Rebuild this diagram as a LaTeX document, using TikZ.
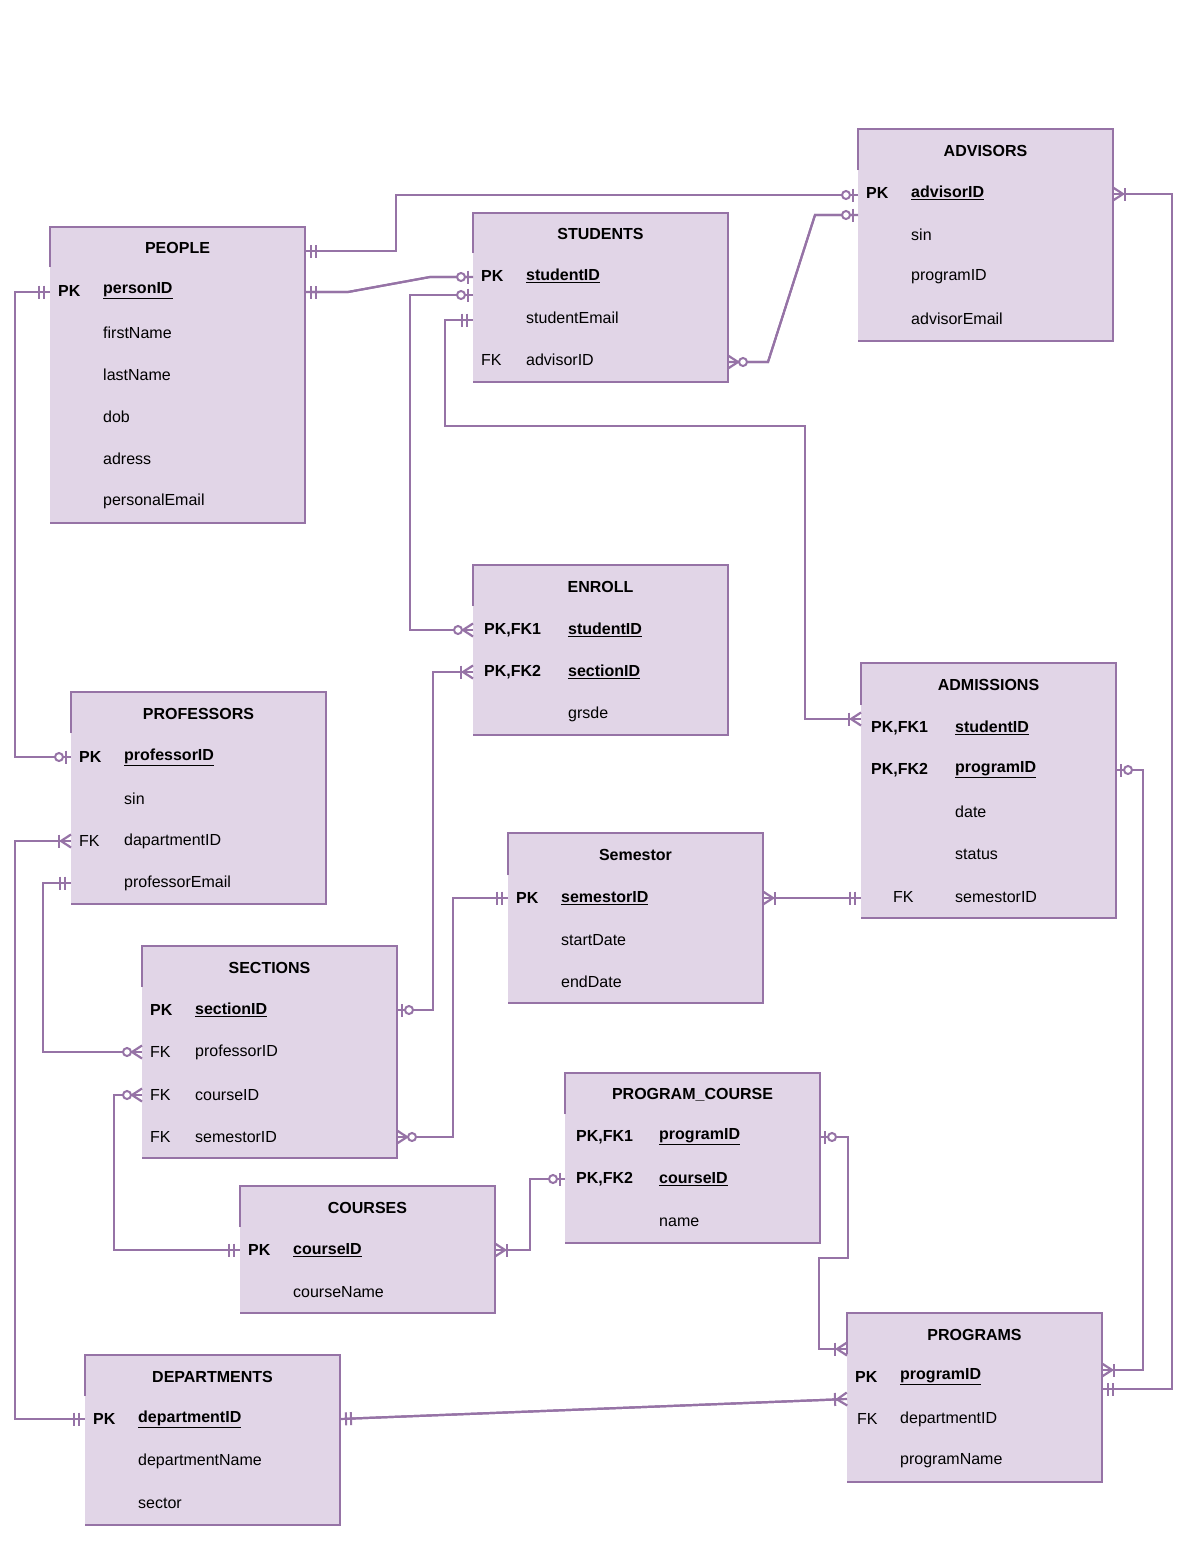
\documentclass[tikz,border=0pt]{standalone}
\usepackage{fontspec}
\setmainfont{Liberation Sans}
\usetikzlibrary{arrows.meta,calc}
\pgfdeclarearrow{
  name=Crow,
  setup code={
    \pgfarrowssettipend{0pt}
    \pgfarrowssetbackend{-10pt}
    \pgfarrowssetlineend{-10pt}
    \pgfarrowssetvisualbackend{-10pt}
    \pgfarrowshullpoint{0pt}{6.5pt}
    \pgfarrowshullpoint{0pt}{-6.5pt}
    \pgfarrowshullpoint{-10pt}{0pt}
  },
  drawing code={
    \pgfsetdash{}{0pt}\pgfsetmiterjoin
    \pgfpathmoveto{\pgfqpoint{0pt}{6.5pt}}
    \pgfpathlineto{\pgfqpoint{-10pt}{0pt}}
    \pgfpathlineto{\pgfqpoint{0pt}{-6.5pt}}
    \pgfusepathqstroke
  },
}
\definecolor{purp}{HTML}{9673A6}
\definecolor{bfill}{HTML}{E1D5E7}
\tikzset{
  B/.tip={Bar[width=13pt,line width=2pt]},
  mo/.tip={B[sep=3pt] B[sep=5pt]},
  zo/.tip={Circle[open,fill=white,length=10pt,width=10pt,line width=2pt,sep=1pt] B[sep=4pt]},
  om/.tip={B[sep=1pt] Crow},
  zm/.tip={Circle[open,fill=white,length=10pt,width=10pt,line width=2pt,sep=0pt] Crow},
  conn/.style={draw=purp,line width=2.2pt,preaction={draw=purp,line width=2.2pt,arrows=-}},
  tbox/.style={fill=bfill,draw=none,inner sep=0pt,outer sep=0pt},
  hline/.style={draw=purp,line width=2.4pt},
  bline/.style={draw=purp,line width=1.2pt},
  htitle/.style={font=\fontsize{16}{18}\selectfont\bfseries,inner sep=0pt,yshift=-1pt},
  fld/.style={font=\fontsize{16}{18}\selectfont,anchor=west,inner sep=0pt,text=black,yshift=-2pt},
}
\newcommand\ertable[7]{%
  \node[tbox,minimum width={#5pt-#2pt},minimum height={#6pt-#3pt}] (#1) at ({(#2+#5)/2},{(#3+#6)/2}) {};
  \node[htitle] (#1-h) at ({(#2+#5)/2},{(#3+#4)/2}) {#7};
  \draw[hline] (#2,#4) -- (#2,#3) -- (#5,#3) -- (#5,#4);
  \draw[bline] (#5,#4) -- (#5,#6) -- (#2,#6);
}
\newcommand\ul[1]{\textbf{\underline{#1}}}
\begin{document}
\begin{tikzpicture}[x=1pt,y=-1pt]
\useasboundingbox[fill=white] (0,0) rectangle (1200,1555);
% PEOPLE
\ertable{people}{50}{227}{267}{305}{523}{PEOPLE}
\node[fld] (people-k1) at (58,289) {\textbf{PK}};
\node[fld] (people-1) at (103,289) {\ul{personID}};
\node[fld] (people-2) at (103,331) {firstName};
\node[fld] (people-3) at (103,373) {lastName};
\node[fld] (people-4) at (103,415) {dob};
\node[fld] (people-5) at (103,457) {adress};
\node[fld] (people-6) at (103,499) {personalEmail};
% STUDENTS
\ertable{students}{473}{213}{253}{728}{382}{STUDENTS}
\node[fld] (students-k1) at (481,274) {\textbf{PK}};
\node[fld] (students-1) at (526,274) {\ul{studentID}};
\node[fld] (students-2) at (526,316) {studentEmail};
\node[fld] (students-k3) at (481,358) {FK};
\node[fld] (students-3) at (526,358) {advisorID};
% ADVISORS
\ertable{advisors}{858}{129}{170}{1113}{341}{ADVISORS}
\node[fld] (advisors-k1) at (866,191) {\textbf{PK}};
\node[fld] (advisors-1) at (911,191) {\ul{advisorID}};
\node[fld] (advisors-2) at (911,233) {sin};
\node[fld] (advisors-3) at (911,275) {programID};
\node[fld] (advisors-4) at (911,317) {advisorEmail};
% ENROLL
\ertable{enroll}{473}{565}{606}{728}{735}{ENROLL}
\node[fld] (enroll-k1) at (484,628) {\textbf{PK,FK1}};
\node[fld] (enroll-1) at (568,628) {\ul{studentID}};
\node[fld] (enroll-k2) at (484,670) {\textbf{PK,FK2}};
\node[fld] (enroll-2) at (568,670) {\ul{sectionID}};
\node[fld] (enroll-3) at (568,712) {grsde};
% PROFESSORS
\ertable{professors}{71}{692}{733}{326}{904}{PROFESSORS}
\node[fld] (professors-k1) at (79,755) {\textbf{PK}};
\node[fld] (professors-1) at (124,755) {\ul{professorID}};
\node[fld] (professors-2) at (124,797) {sin};
\node[fld] (professors-k3) at (79,839) {FK};
\node[fld] (professors-3) at (124,839) {dapartmentID};
\node[fld] (professors-4) at (124,881) {professorEmail};
% ADMISSIONS
\ertable{admissions}{861}{663}{705}{1116}{918}{ADMISSIONS}
\node[fld] (admissions-k1) at (871,726) {\textbf{PK,FK1}};
\node[fld] (admissions-1) at (955,726) {\ul{studentID}};
\node[fld] (admissions-k2) at (871,768) {\textbf{PK,FK2}};
\node[fld] (admissions-2) at (955,768) {\ul{programID}};
\node[fld] (admissions-3) at (955,810) {date};
\node[fld] (admissions-4) at (955,852) {status};
\node[fld] (admissions-k5) at (893,895) {FK};
\node[fld] (admissions-5) at (955,895) {semestorID};
% Semestor
\ertable{semestor}{508}{833}{875}{763}{1003}{Semestor}
\node[fld] (semestor-k1) at (516,896) {\textbf{PK}};
\node[fld] (semestor-1) at (561,896) {\ul{semestorID}};
\node[fld] (semestor-2) at (561,938) {startDate};
\node[fld] (semestor-3) at (561,980) {endDate};
% SECTIONS
\ertable{sections}{142}{946}{987}{397}{1158}{SECTIONS}
\node[fld] (sections-k1) at (150,1008) {\textbf{PK}};
\node[fld] (sections-1) at (195,1008) {\ul{sectionID}};
\node[fld] (sections-k2) at (150,1050) {FK};
\node[fld] (sections-2) at (195,1050) {professorID};
\node[fld] (sections-k3) at (150,1093) {FK};
\node[fld] (sections-3) at (195,1093) {courseID};
\node[fld] (sections-k4) at (150,1135) {FK};
\node[fld] (sections-4) at (195,1135) {semestorID};
% PROGRAM_COURSE
\ertable{pc}{565}{1073}{1114}{820}{1243}{PROGRAM\_COURSE}
\node[fld] (pc-k1) at (576,1135) {\textbf{PK,FK1}};
\node[fld] (pc-1) at (659,1135) {\ul{programID}};
\node[fld] (pc-k2) at (576,1177) {\textbf{PK,FK2}};
\node[fld] (pc-2) at (659,1177) {\ul{courseID}};
\node[fld] (pc-3) at (659,1220) {name};
% COURSES
\ertable{courses}{240}{1186}{1227}{495}{1313}{COURSES}
\node[fld] (courses-k1) at (248,1248) {\textbf{PK}};
\node[fld] (courses-1) at (293,1248) {\ul{courseID}};
\node[fld] (courses-2) at (293,1290) {courseName};
% DEPARTMENTS
\ertable{departments}{85}{1355}{1396}{340}{1525}{DEPARTMENTS}
\node[fld] (departments-k1) at (93,1417) {\textbf{PK}};
\node[fld] (departments-1) at (138,1417) {\ul{departmentID}};
\node[fld] (departments-2) at (138,1459) {departmentName};
\node[fld] (departments-3) at (138,1501) {sector};
% PROGRAMS
\ertable{programs}{847}{1313}{1354}{1102}{1482}{PROGRAMS}
\node[fld] (programs-k1) at (855,1375) {\textbf{PK}};
\node[fld] (programs-1) at (900,1375) {\ul{programID}};
\node[fld] (programs-k2) at (857,1417) {FK};
\node[fld] (programs-2) at (900,1417) {departmentID};
\node[fld] (programs-3) at (900,1459) {programName};
% connectors
\draw[conn,{mo}-{zo}] ($(people.east|-people-h)+(0,3)$) -- ++(91,0) |- ($(advisors.west|-advisors-1)+(0,2)$);
\draw[conn,{mo}-{zo}] ($(people.east|-people-1)+(0,1)$) -- ++(43,0) -- ($(students.west|-students-1)+(-43,1)$) -- ($(students.west|-students-1)+(0,1)$);
\draw[conn,{mo}-{zo}] ($(people.west|-people-1)+(0,1)$) -- ++(-35,0) |- (professors.west|-professors-1);
\draw[conn,{zo}-{zm}] ($(students.west|-students-1)+(0,19)$) -- ++(-63,0) |- (enroll.west|-enroll-1);
\draw[conn,{mo}-{om}] ($(students.west|-students-1)+(0,44)$) -- ++(-28,0) -- ++(0,106) -- ++(360,0) |- ($(admissions.west|-admissions-1)+(0,-9)$);
\draw[conn,{zm}-{zo}] ($(students.east|-students-3)+(0,2)$) -- ++(40,0) -- ($(advisors.west|-advisors-1)+(-43,22)$) -- ($(advisors.west|-advisors-1)+(0,22)$);
\draw[conn,{om}-{mo}] ($(advisors.east|-advisors-1)+(0,1)$) -- ++(59,0) |- ($(programs.east|-programs-1)+(0,12)$);
\draw[conn,{om}-{zo}] (enroll.west|-enroll-2) -- ++(-40,0) |- (sections.east|-sections-1);
\draw[conn,{om}-{mo}] (professors.west|-professors-3) -- ++(-56,0) |- (departments.west|-departments-1);
\draw[conn,{mo}-{zm}] (professors.west|-professors-4) -- ++(-28,0) |- (sections.west|-sections-2);
\draw[conn,{mo}-{zm}] (semestor.west|-semestor-1) -- ++(-55,0) |- (sections.east|-sections-4);
\draw[conn,{om}-{mo}] (semestor.east|-semestor-1) -- (admissions.west|-semestor-1);
\draw[conn,{zo}-{om}] (admissions.east|-admissions-2) -- ++(27,0) |- ($(programs.east|-programs-1)+(0,-7)$);
\draw[conn,{zm}-{mo}] (sections.west|-sections-3) -- ++(-28,0) |- (courses.west|-courses-1);
\draw[conn,{om}-{zo}] (courses.east|-courses-1) -- ++(35,0) |- (pc.west|-pc-2);
\draw[conn,{zo}-{om}] (pc.east|-pc-1) -- ++(28,0) -- ++(0,121) -- ++(-29,0) |- ($(programs.west|-programs-1)+(0,-28)$);
\draw[conn,{mo}-{om}] (departments.east|-departments-1) -- ($(programs.west|-programs-1)+(0,22)$);
\end{tikzpicture}
\end{document}
